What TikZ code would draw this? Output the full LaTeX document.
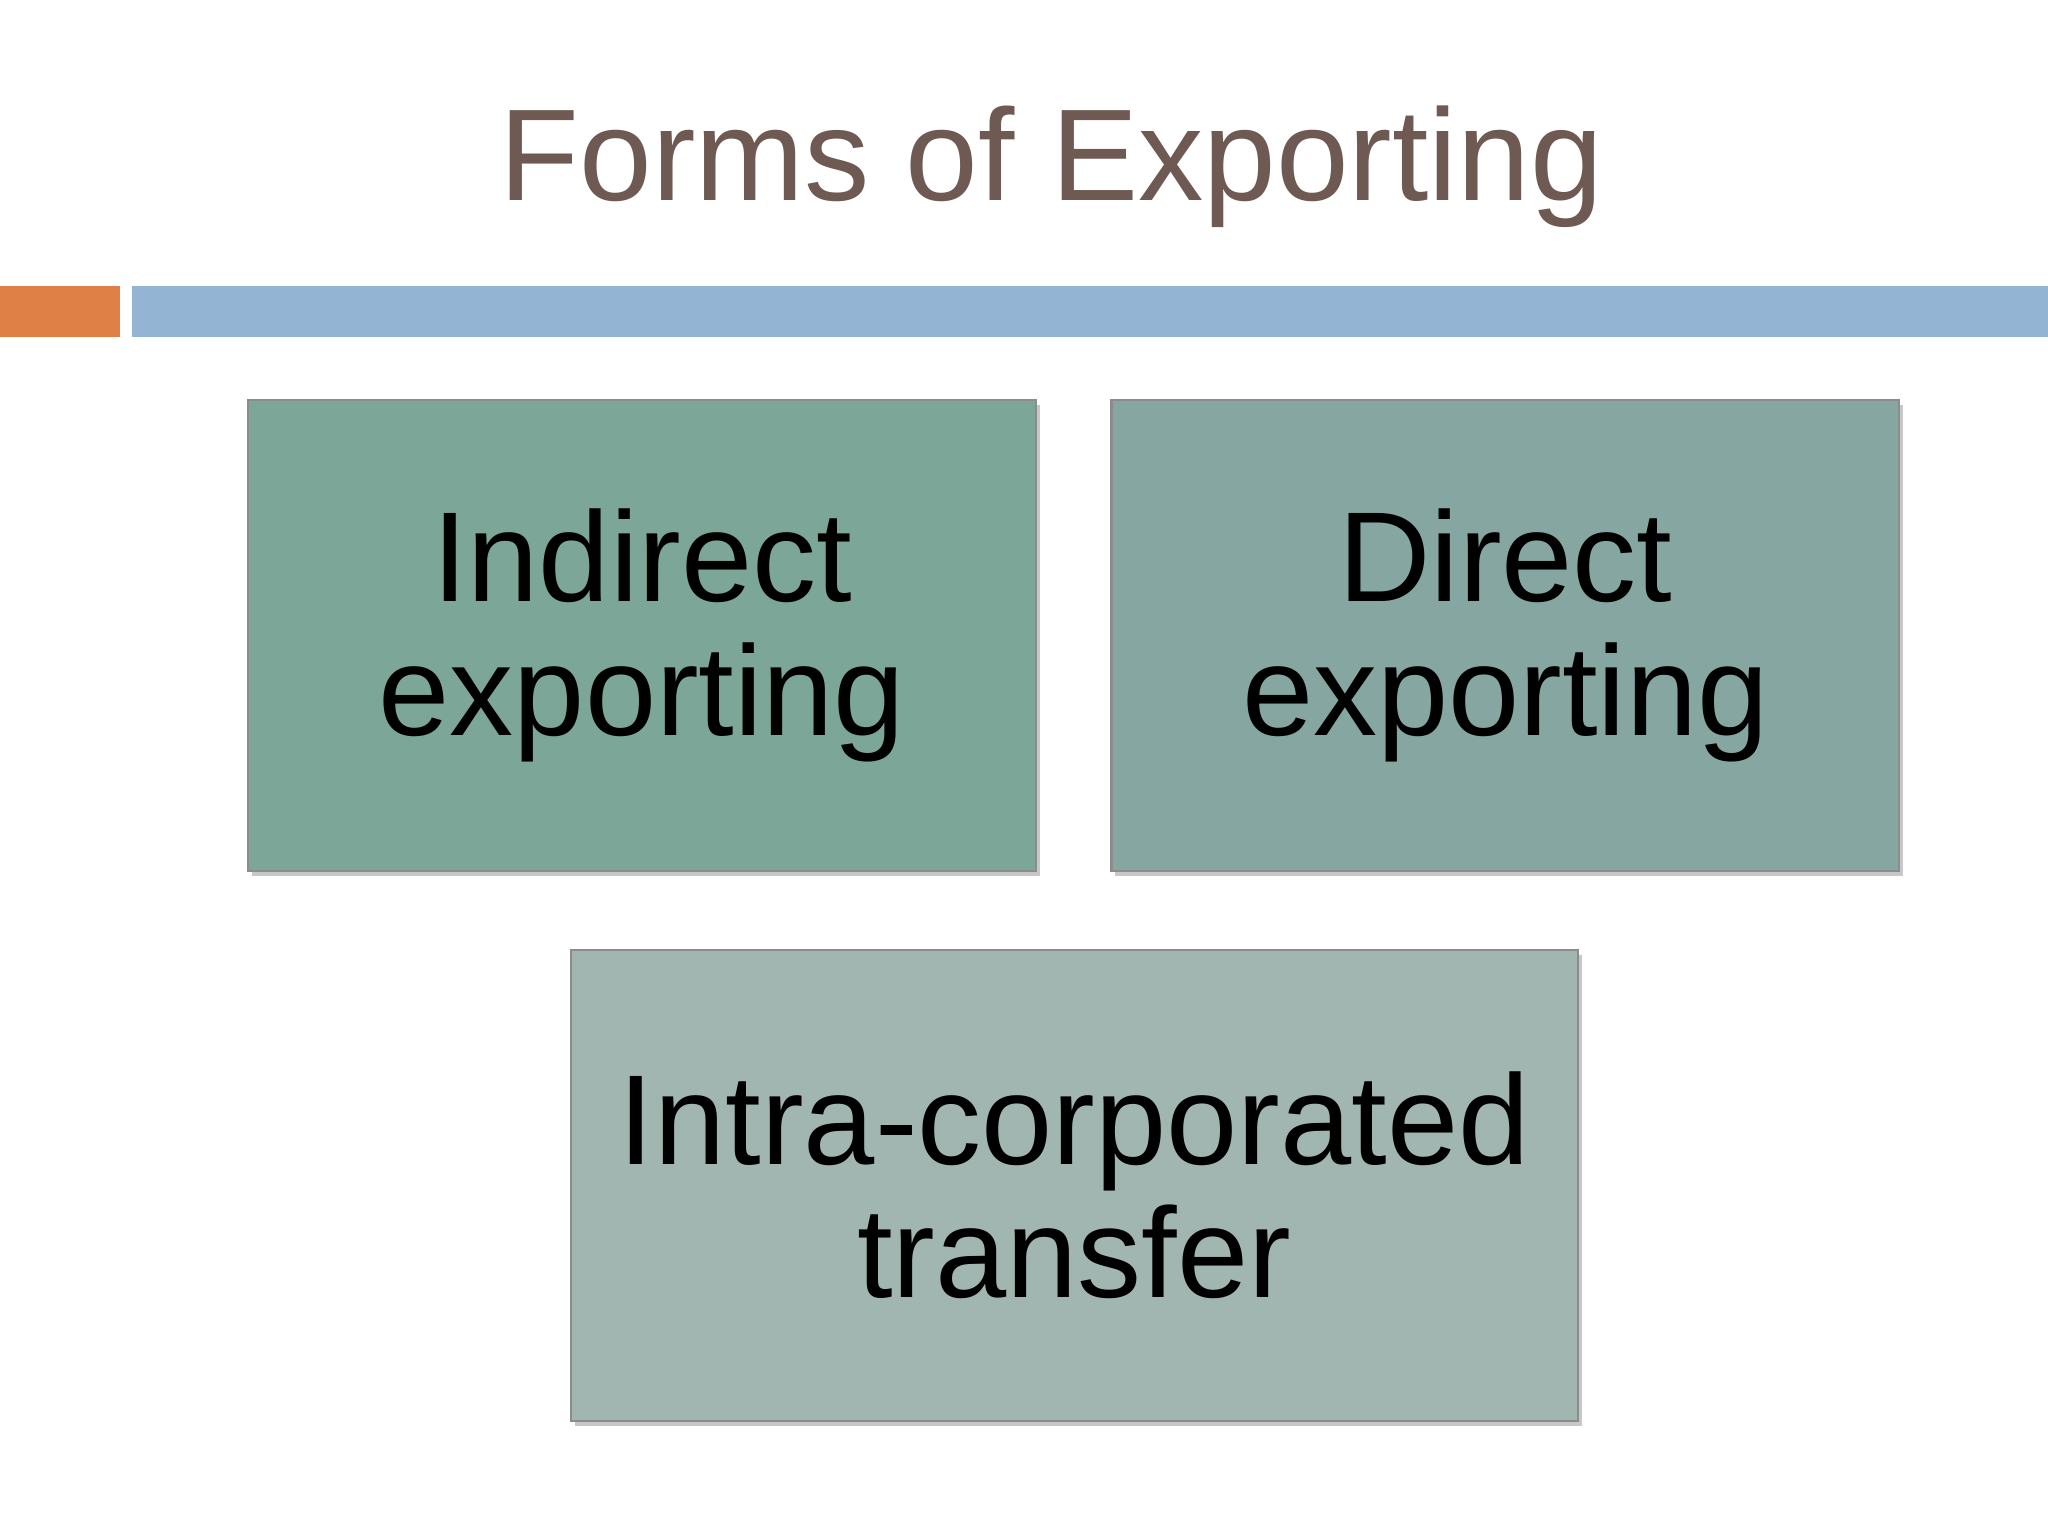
\documentclass[tikz,border=0pt]{standalone}
\usepackage{fontspec}
\setmainfont{Liberation Sans}
\definecolor{titlec}{HTML}{6E5A52}
\definecolor{orangec}{HTML}{DF8147}
\definecolor{bluec}{HTML}{94B4D4}
\definecolor{boxa}{HTML}{7CA698}
\definecolor{boxb}{HTML}{86A7A1}
\definecolor{boxc}{HTML}{A1B6B0}
\tikzset{
  card/.style={draw=black!45, line width=0.8pt, align=center, inner sep=0pt,
    font=\fontsize{49}{51}\selectfont, text=black},
  shadowc/.style={fill=black!22}
}
\begin{document}
\begin{tikzpicture}[x=0.5pt,y=-0.5pt]
\useasboundingbox[fill=white] (0,0) rectangle (1568,1176);
\node[text=titlec, font=\fontsize{50}{55}\selectfont] (title) at (805,128) {Forms of Exporting};
\fill[orangec] (0,219) rectangle (92,258);
\fill[bluec] (101,219) rectangle (1568,258);
% shadows
\fill[shadowc] (193,310) rectangle (796,671);
\fill[shadowc] (854,310) rectangle (1457,671);
\fill[shadowc] (440,731) rectangle (1211,1092);
\node[card, fill=boxa, minimum width=301.5pt, minimum height=180.5pt] (a) at (491.5,486.5) {Indirect\\exporting};
\node[card, fill=boxb, minimum width=301.5pt, minimum height=180.5pt] (b) at (1152.5,486.5) {Direct\\exporting};
\node[card, fill=boxc, minimum width=385.5pt, minimum height=180.5pt] (c) at (822.5,907.5) {Intra-corporated\\transfer};
\end{tikzpicture}
\end{document}
